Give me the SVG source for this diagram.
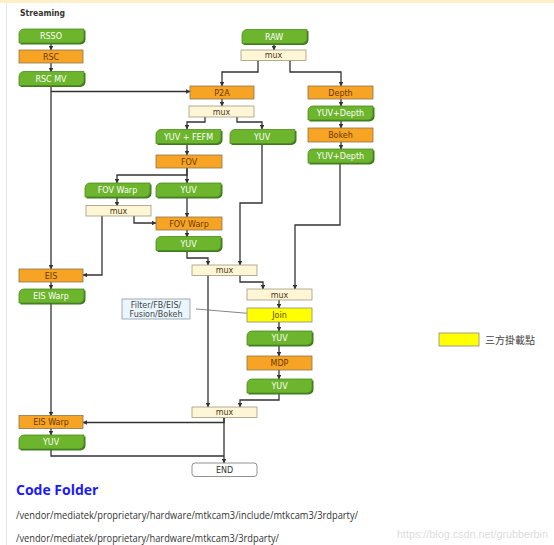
<svg xmlns="http://www.w3.org/2000/svg" xmlns:xlink="http://www.w3.org/1999/xlink" width="554" height="545" viewBox="0 0 554 545">
<style>
.t{font-family:"DejaVu Sans",Verdana,sans-serif;font-size:8px;text-anchor:middle}
.tw{fill:#ffffff}
.to{fill:#6a3a08}
.tm{fill:#4a3a20}
.or{fill:#f7a323;stroke:#8b7550;stroke-width:0.8}
.mx{fill:#fff6d5;stroke:#a09a80;stroke-width:0.8}
.c{fill:none;stroke:#333;stroke-width:1.3}
</style>
<defs>
<marker id="ah" viewBox="0 0 6 6" refX="5.5" refY="3" markerWidth="4.5" markerHeight="4.5" orient="auto" markerUnits="userSpaceOnUse">
<path d="M0,0 L6,3 L0,6 Z" fill="#333"/>
</marker>
<g id="gs">
<path d="M6.5,1.5 H66.5 V10.5 A5,5 0 0 1 61.5,15.5 H1.5 V6.5 A5,5 0 0 1 6.5,1.5 Z" fill="#3f7a1e"/>
<path d="M5,0 H65 V9 A5,5 0 0 1 60,14 H0 V5 A5,5 0 0 1 5,0 Z" fill="#6cb52d" stroke="#4c8c22" stroke-width="0.8"/>
</g>
</defs>
<rect x="0" y="0" width="554" height="545" fill="#ffffff"/>
<rect x="0" y="0" width="554" height="3" fill="#fdf0c8"/>
<line x1="6.5" y1="3" x2="6.5" y2="545" stroke="#e6e6e6" stroke-width="1"/>
<text x="20" y="16" font-family="'DejaVu Sans',Verdana,sans-serif" font-size="9.5" font-weight="bold" fill="#333" textLength="45" lengthAdjust="spacingAndGlyphs">Streaming</text>

<g id="connectors">
<path class="c" d="M51,44 V50" marker-end="url(#ah)"/>
<path class="c" d="M51,63 V72" marker-end="url(#ah)"/>
<path class="c" d="M51,85 V269" marker-end="url(#ah)"/>
<path class="c" d="M51,91.5 H190" marker-end="url(#ah)"/>
<path class="c" d="M274,43 V50" marker-end="url(#ah)"/>
<path class="c" d="M258,60 V72 H222 V86" marker-end="url(#ah)"/>
<path class="c" d="M290,60 V72 H341 V86" marker-end="url(#ah)"/>
<path class="c" d="M222,99 V106" marker-end="url(#ah)"/>
<path class="c" d="M205,117 V122 H187 V129" marker-end="url(#ah)"/>
<path class="c" d="M237,117 V122 H262 V129" marker-end="url(#ah)"/>
<path class="c" d="M341,99 V106" marker-end="url(#ah)"/>
<path class="c" d="M341,120 V128" marker-end="url(#ah)"/>
<path class="c" d="M341,142 V149" marker-end="url(#ah)"/>
<path class="c" d="M340,164 V225 H295 V289" marker-end="url(#ah)"/>
<path class="c" d="M187,144 V155" marker-end="url(#ah)"/>
<path class="c" d="M187,168 V175 H117 V183" marker-end="url(#ah)"/>
<path class="c" d="M187,168 V183" marker-end="url(#ah)"/>
<path class="c" d="M117,197 V206" marker-end="url(#ah)"/>
<path class="c" d="M134,216 V223 H156" marker-end="url(#ah)"/>
<path class="c" d="M102,216 V275 H83" marker-end="url(#ah)"/>
<path class="c" d="M187,197 V217" marker-end="url(#ah)"/>
<path class="c" d="M187,230 V237" marker-end="url(#ah)"/>
<path class="c" d="M187,250 V258 H208 V265" marker-end="url(#ah)"/>
<path class="c" d="M262,144 V203 H240 V265" marker-end="url(#ah)"/>
<path class="c" d="M240,275 V282 H263 V289" marker-end="url(#ah)"/>
<path class="c" d="M208,275 V407" marker-end="url(#ah)"/>
<path class="c" d="M279,300 V308" marker-end="url(#ah)"/>
<path class="c" d="M279,322 V331" marker-end="url(#ah)"/>
<path class="c" d="M279,345 V356" marker-end="url(#ah)"/>
<path class="c" d="M279,370 V379" marker-end="url(#ah)"/>
<path class="c" d="M279,394 V400 H240 V407" marker-end="url(#ah)"/>
<path class="c" d="M51,282 V289" marker-end="url(#ah)"/>
<path class="c" d="M51,303 V416" marker-end="url(#ah)"/>
<path class="c" d="M224,418 V422.5 H83" marker-end="url(#ah)"/>
<path class="c" d="M224,418 V463" marker-end="url(#ah)"/>
<path class="c" d="M51,428 V435" marker-end="url(#ah)"/>
<path class="c" d="M51,449 V456 H224"/>
<path d="M196,309 L256,314" fill="none" stroke="#666" stroke-width="0.8"/>
</g>

<g id="n-rsso"><use xlink:href="#gs" x="19" y="29"/><text class="t tw" x="51" y="39">RSSO</text></g>
<g id="n-rsc"><rect class="or" x="19" y="50" width="64" height="13"/><text class="t to" x="51" y="59.5">RSC</text></g>
<g id="n-rscmv"><use xlink:href="#gs" x="19" y="71.5"/><text class="t tw" x="51" y="81.5">RSC MV</text></g>
<g id="n-raw"><use xlink:href="#gs" x="242" y="29.5"/><text class="t tw" x="274" y="39.5">RAW</text></g>
<g id="n-mux1"><rect class="mx" x="241" y="50" width="65" height="10.5"/><text class="t tm" x="273.5" y="58">mux</text></g>
<g id="n-p2a"><rect class="or" x="190" y="86" width="64" height="13"/><text class="t to" x="222" y="95.5">P2A</text></g>
<g id="n-depth"><rect class="or" x="308" y="86" width="65" height="13"/><text class="t to" x="340.5" y="95.5">Depth</text></g>
<g id="n-mux2"><rect class="mx" x="189" y="106" width="65" height="11"/><text class="t tm" x="221.5" y="114.5">mux</text></g>
<g id="n-yuvdepth1"><use xlink:href="#gs" x="308" y="106"/><text class="t tw" x="340.5" y="116">YUV+Depth</text></g>
<g id="n-bokeh"><rect class="or" x="308" y="128" width="65" height="14"/><text class="t to" x="340.5" y="138">Bokeh</text></g>
<g id="n-yuvdepth2"><use xlink:href="#gs" x="308" y="149"/><text class="t tw" x="340.5" y="159">YUV+Depth</text></g>
<g id="n-yuvfefm"><use xlink:href="#gs" x="156" y="129.5"/><text class="t tw" x="188.5" y="139.5">YUV + FEFM</text></g>
<g id="n-yuv1"><use xlink:href="#gs" x="230" y="129.5"/><text class="t tw" x="262" y="139.5">YUV</text></g>
<g id="n-fov"><rect class="or" x="156" y="155" width="66" height="13"/><text class="t to" x="189" y="164.5">FOV</text></g>
<g id="n-fovwarpg"><use xlink:href="#gs" x="85" y="183"/><text class="t tw" x="117.5" y="193">FOV Warp</text></g>
<g id="n-yuv2"><use xlink:href="#gs" x="156" y="183"/><text class="t tw" x="188.5" y="193">YUV</text></g>
<g id="n-mux3"><rect class="mx" x="86" y="205.5" width="65" height="10.5"/><text class="t tm" x="118.5" y="213.5">mux</text></g>
<g id="n-fovwarpo"><rect class="or" x="156" y="217" width="66" height="13"/><text class="t to" x="189" y="226.5">FOV Warp</text></g>
<g id="n-yuv3"><use xlink:href="#gs" x="156" y="236.5"/><text class="t tw" x="188.5" y="246.5">YUV</text></g>
<g id="n-mux4"><rect class="mx" x="192" y="265" width="65" height="10.5"/><text class="t tm" x="224.5" y="273">mux</text></g>
<g id="n-eis"><rect class="or" x="19" y="269" width="64" height="13"/><text class="t to" x="51" y="278.5">EIS</text></g>
<g id="n-eiswarpg"><use xlink:href="#gs" x="19" y="289"/><text class="t tw" x="51" y="299">EIS Warp</text></g>
<g id="n-mux5"><rect class="mx" x="247" y="289" width="65" height="11"/><text class="t tm" x="279.5" y="297.5">mux</text></g>
<g id="n-join"><rect x="247" y="308" width="65" height="14" fill="#ffff00" stroke="#888" stroke-width="0.8"/><text class="t" x="279.5" y="318" fill="#5a4a10">Join</text></g>
<g id="n-filter"><rect x="122" y="299" width="68" height="20" fill="#eaf6fd" stroke="#8a9aa0" stroke-width="0.8"/><text class="t" x="156" y="307.5" fill="#444">Filter/FB/EIS/</text><text class="t" x="156" y="316.5" fill="#444">Fusion/Bokeh</text></g>
<g id="n-yuv4"><use xlink:href="#gs" x="247" y="331"/><text class="t tw" x="279.5" y="341">YUV</text></g>
<g id="n-mdp"><rect class="or" x="247" y="356" width="65" height="14"/><text class="t to" x="279.5" y="366">MDP</text></g>
<g id="n-yuv5"><use xlink:href="#gs" x="247" y="379"/><text class="t tw" x="279.5" y="389">YUV</text></g>
<g id="n-mux6"><rect class="mx" x="192" y="407" width="65" height="10.5"/><text class="t tm" x="224.5" y="415">mux</text></g>
<g id="n-eiswarpo"><rect class="or" x="19" y="415.5" width="64" height="13"/><text class="t to" x="51" y="425">EIS Warp</text></g>
<g id="n-yuv6"><use xlink:href="#gs" x="19" y="435"/><text class="t tw" x="51" y="445">YUV</text></g>
<g id="n-end"><rect x="192" y="463" width="65" height="13.5" rx="3" fill="#ffffff" stroke="#777" stroke-width="0.8"/><text class="t" x="224.5" y="472.5" fill="#333">END</text></g>

<g id="legend"><rect x="439" y="333" width="40" height="13" fill="#ffff00" stroke="#888" stroke-width="0.8"/><text x="485" y="343.5" font-family="'Noto Sans CJK TC','Noto Sans CJK SC',sans-serif" font-size="10" fill="#444">三方掛載點</text></g>

<text x="16" y="495" font-family="'Open Sans','DejaVu Sans',sans-serif" font-size="14" font-weight="bold" fill="#1a1aff">Code Folder</text>
<text x="16" y="519" font-family="'Open Sans','DejaVu Sans',sans-serif" font-size="10" fill="#333" textLength="342" lengthAdjust="spacingAndGlyphs">/vendor/mediatek/proprietary/hardware/mtkcam3/include/mtkcam3/3rdparty/</text>
<text x="16" y="542" font-family="'Open Sans','DejaVu Sans',sans-serif" font-size="10" fill="#333" textLength="263" lengthAdjust="spacingAndGlyphs">/vendor/mediatek/proprietary/hardware/mtkcam3/3rdparty/</text>
<text x="397" y="538" font-family="'Liberation Sans',Arial,sans-serif" font-size="10" fill="#dddddd" textLength="151" lengthAdjust="spacingAndGlyphs">https://blog.csdn.net/grubberbin</text>
</svg>
